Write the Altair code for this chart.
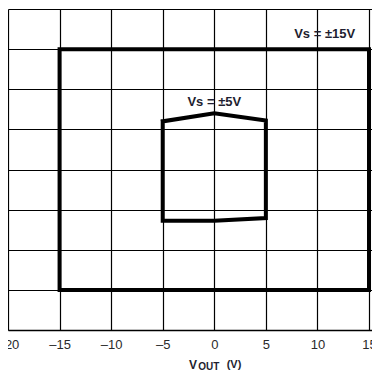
import altair as alt
import pandas as pd

# ---- data ----
x_ticks = [-20, -15, -10, -5, 0, 5, 10, 15]
y_ticks = [-20, -15, -10, -5, 0, 5, 10, 15, 20]

vs15_x = [-15, 15, 15, -15, -15]
vs15_y = [15, 15, -15, -15, 15]

vs5_x = [-5, 0, 5, 5, 0, -5, -5]
vs5_y = [6.0, 7.0, 6.1, -6.05, -6.4, -6.4, 6.0]

curve_labels = ["Vs = ±15V", "Vs = ±5V"]
curve_label_x = [10.7, 0.0]
curve_label_y = [16.9, 8.4]

title_parts = ["V", "OUT", "(V)"]
title_x = [-2.45, -1.55, 1.2]
title_y = [-24.35, -24.6, -24.3]
title_size = [12, 10, 11]

# ---- tables ----
rows = []
for i, (x, y) in enumerate(zip(vs15_x, vs15_y)):
    rows.append({"series": "15", "idx": i, "x": x, "y": y})
for i, (x, y) in enumerate(zip(vs5_x, vs5_y)):
    rows.append({"series": "5", "idx": i, "x": x, "y": y})
lines_df = pd.DataFrame(rows)

lab_df = pd.DataFrame({"t": curve_labels, "x": curve_label_x, "y": curve_label_y})
tit_df = pd.DataFrame({"t": title_parts, "x": title_x, "y": title_y, "s": title_size})

FONT = "Liberation Sans"

xscale = alt.Scale(domain=[-20, 15.29], nice=False, zero=False)
yscale = alt.Scale(domain=[-20, 20], nice=False, zero=False)

xaxis = alt.Axis(
    values=x_ticks, grid=True, gridColor="black", gridWidth=1.2, gridOpacity=1,
    ticks=False, domain=True, domainColor="black", domainWidth=1.5,
    labelFont=FONT, labelFontSize=13, labelColor="#2a2a2a", labelPadding=8,
    labelOverlap=False, labelFlush=False, labelBound=False,
    labelExpr="datum.value < 0 ? '\u2013' + abs(datum.value) : datum.label",
    title=None,
)
yaxis = alt.Axis(
    values=y_ticks, grid=True, gridColor="black", gridWidth=1.2, gridOpacity=1,
    ticks=False, domain=False, labels=False, title=None,
)

lines = alt.Chart(lines_df).mark_line(
    color="black", strokeWidth=4, strokeJoin="miter", strokeCap="square"
).encode(
    x=alt.X("x:Q", scale=xscale, axis=xaxis),
    y=alt.Y("y:Q", scale=yscale, axis=yaxis),
    detail="series:N",
    order="idx:Q",
)

labels = alt.Chart(lab_df).mark_text(
    font=FONT, fontSize=13, fontWeight="bold", color="#1e1e30",
    align="center", baseline="middle",
).encode(
    x=alt.X("x:Q", scale=xscale),
    y=alt.Y("y:Q", scale=yscale),
    text="t:N",
)

title = alt.Chart(tit_df).mark_text(
    font=FONT, fontWeight="bold", color="#1e1e30",
    align="left", baseline="middle", clip=False,
).encode(
    x=alt.X("x:Q", scale=xscale),
    y=alt.Y("y:Q", scale=yscale),
    text="t:N",
    size=alt.Size("s:Q", scale=None, legend=None),
)

chart = alt.layer(lines, labels, title).properties(
    width=364,
    height=321,
    autosize=alt.AutoSizeParams(type="none"),
    padding={"left": 0, "top": 1, "right": 0, "bottom": 42},
).configure_view(strokeWidth=0)

chart.save("out.html", embed_options={"renderer": "svg", "actions": False})
